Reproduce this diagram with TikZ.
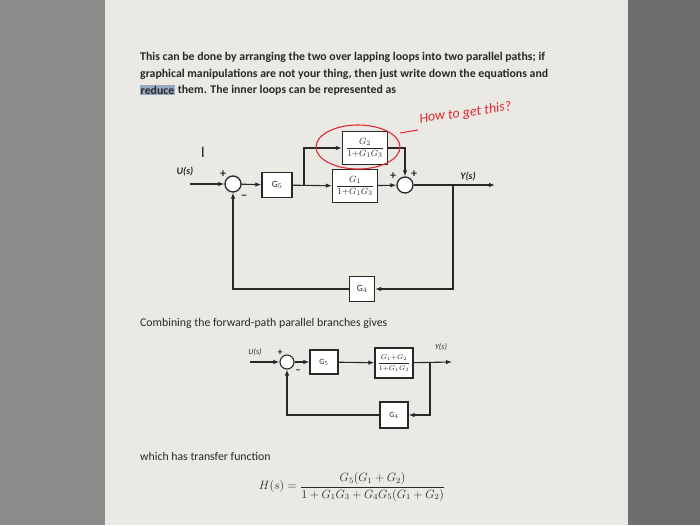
\documentclass[tikz,border=0pt]{standalone}
\usepackage{amsmath}
\usepackage{fontspec}
\setmainfont{Carlito}
\usetikzlibrary{arrows.meta}
\definecolor{page}{RGB}{234,233,228}
\definecolor{leftg}{RGB}{140,140,138}
\definecolor{rightg}{RGB}{110,110,110}
\definecolor{hl}{RGB}{150,170,195}
\definecolor{ink}{RGB}{40,40,40}
\definecolor{pen}{RGB}{225,40,50}
\begin{document}
\begin{tikzpicture}[x=1pt,y=-1pt,
  blk/.style={draw=ink,line width=1.3pt,fill=white,minimum width=#1,inner sep=1pt,font=\fontsize{9.5}{10}\selectfont\color{ink}},
  blk/.default=30pt,
  sumc/.style={draw=ink,line width=1.3pt,circle,minimum size=16pt,inner sep=0pt,fill=white},
  sums/.style={draw=ink,line width=1.1pt,circle,minimum size=14pt,inner sep=0pt,fill=white},
  ln/.style={draw=ink,line width=1.1pt},
  ar/.style={ln,-{Latex[length=6pt,width=4.5pt]}},
  sg/.style={font=\bfseries\fontsize{12}{12}\selectfont\color{ink},inner sep=0pt},
  lbl/.style={font=\itshape\bfseries\fontsize{10}{11}\selectfont\color{ink},inner sep=0pt},
  txt/.style={anchor=west,inner sep=0pt,font=\fontsize{11.8}{13}\selectfont\color{ink}},
  btxt/.style={txt,font=\bfseries\fontsize{11.8}{13}\selectfont\color{ink}}]
\useasboundingbox (0,0) rectangle (700,525);
\fill[leftg] (0,0) rectangle (700,525);
\fill[page] (105,0) rectangle (628,525);
\fill[rightg] (628,0) rectangle (700,525);
% paragraph
\node[btxt] (p1) at (140,57) {This can be done by arranging the two over lapping loops into two parallel paths; if};
\node[btxt] (p2) at (140,74) {graphical manipulations are not your thing, then just write down the equations and};
\node[btxt,fill=hl,inner sep=0.5pt] (p3a) at (140,90) {reduce};
\node[btxt] (p3) at (p3a.east) {\ them. The inner loops can be represented as};
% top diagram
\node[font=\fontsize{16}{16}\selectfont\color{ink}] (cur) at (203,152) {I};
\node[sumc] (s1) at (233,184) {};
\node[blk=30pt,minimum height=25pt] (g5) at (277,185) {G$_5$};
\node[blk=45pt,minimum height=33pt] (gu) at (365,148) {$\dfrac{G_2}{1{+}G_1G_3}$};
\node[blk=45pt,minimum height=33pt] (gl) at (355,186) {$\dfrac{G_1}{1{+}G_1G_3}$};
\node[sumc] (s2) at (405,185) {};
\node[blk=25pt,minimum height=25pt] (g4) at (362,289) {G$_4$};
\coordinate (in1) at (190,184);
\coordinate (out1) at (495,185);
\coordinate (br1) at (304,185);
\coordinate (tk1) at (453,185);
\node[lbl] (u1) at (185,172) {U(s)};
\node[lbl] (y1) at (468,177) {Y(s)};
\draw[ar] (in1) -- (s1);
\draw[ar] (s1) -- (g5);
\draw[ar] (g5) -- (gl);
\draw[ar] (br1) |- (gu);
\draw[ar] (gl) -- (s2);
\draw[ar] (gu.east) -| (s2.north);
\draw[ar] (s2) -- (out1);
\draw[ar] (tk1) |- (g4);
\draw[ar] (g4) -| (s1.south);
\node[sg] at (223,174) {+};
\node[sg] at (244,197) {\textminus};
\node[sg] at (393,176) {+};
\node[sg] at (414,174) {+};
% red annotation
\draw[pen,line width=1.1pt] (358,147) ellipse [x radius=42pt,y radius=22pt];
\draw[pen,line width=1pt] (400,133) -- (418,130);
\node[pen,font=\itshape\fontsize{14}{14}\selectfont,rotate=8,anchor=west] (hw) at (416,120) {How to get this?};
% middle text
\node[txt] (c1) at (140,323) {Combining the forward-path parallel branches gives};
% bottom diagram
\node[sums] (s3) at (287,362) {};
\node[blk=28pt,minimum height=24pt,font=\fontsize{8}{9}\selectfont\color{ink}] (g5b) at (324,362) {G$_5$};
\node[blk=38pt,minimum height=30pt,font=\fontsize{7}{8}\selectfont\color{ink}] (gb) at (394,363) {$\dfrac{G_1{+}G_2}{1{+}G_1G_3}$};
\node[blk=28pt,minimum height=26pt,font=\fontsize{8}{9}\selectfont\color{ink}] (g4b) at (394,415) {G$_4$};
\coordinate (in2) at (250,362);
\coordinate (out2) at (452,362);
\coordinate (tk2) at (430,362);
\node[lbl,font=\itshape\fontsize{8}{9}\selectfont\color{ink}] (u2) at (255,352) {U(s)};
\node[lbl,font=\itshape\fontsize{8}{9}\selectfont\color{ink}] (y2) at (441,347) {Y(s)};
\draw[ar] (in2) -- (s3);
\draw[ar] (s3) -- (g5b);
\draw[ar] (g5b) -- (gb);
\draw[ar] (gb) -- (out2);
\draw[ar] (tk2) |- (g4b);
\draw[ar] (g4b) -| (s3.south);
\node[sg,font=\bfseries\fontsize{10}{10}\selectfont\color{ink}] at (280,353) {+};
\node[sg,font=\bfseries\fontsize{10}{10}\selectfont\color{ink}] at (298,372) {\textminus};
% transfer function
\node[txt] (c2) at (140,456) {which has transfer function};
\node[inner sep=0pt,font=\fontsize{12}{14}\selectfont\color{ink}] (hs) at (352,487) {$H(s)=\dfrac{G_5(G_1+G_2)}{1+G_1G_3+G_4G_5(G_1+G_2)}$};
\end{tikzpicture}
\end{document}
